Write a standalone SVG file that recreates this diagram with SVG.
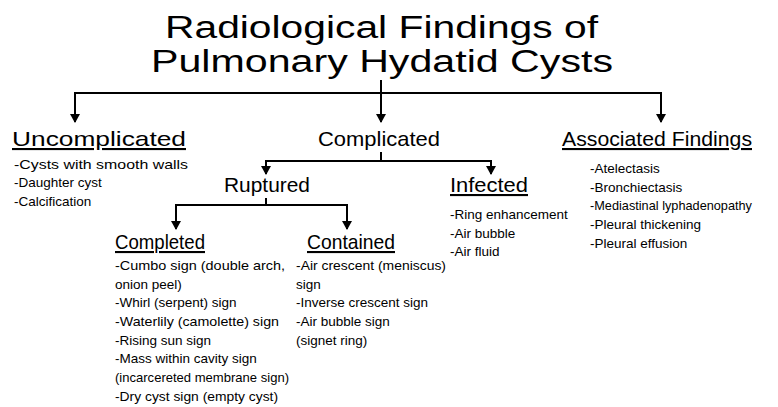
<svg xmlns="http://www.w3.org/2000/svg" width="778" height="407" viewBox="0 0 778 407">
<style>
text{font-family:"Liberation Sans",Arial,sans-serif;fill:#000}
.t{font-size:31px}
.h{font-size:21px}
.s{font-size:13.5px}
.u{text-decoration:underline}
line{stroke:#000;stroke-width:2}
</style>
<defs><marker id="a" markerWidth="10" markerHeight="10" refX="8" refY="5" orient="auto" markerUnits="userSpaceOnUse"><path d="M0,0L9,5L0,10z" fill="#000"/></marker></defs>
<rect width="778" height="407" fill="#fff"/>
<g id="title"><text class="t" x="165" y="38" textLength="433" lengthAdjust="spacingAndGlyphs">Radiological Findings of</text><text class="t" x="151" y="72" textLength="462" lengthAdjust="spacingAndGlyphs">Pulmonary Hydatid Cysts</text></g>
<g id="connectors">
<line x1="381" y1="80" x2="381" y2="93"/><line x1="75" y1="93" x2="661" y2="93"/>
<line x1="75" y1="92" x2="75" y2="122" marker-end="url(#a)"/>
<line x1="381" y1="93" x2="381" y2="122" marker-end="url(#a)"/>
<line x1="661" y1="92" x2="661" y2="122" marker-end="url(#a)"/>
<line x1="381" y1="152" x2="381" y2="161"/><line x1="266" y1="161" x2="491" y2="161"/>
<line x1="266" y1="160" x2="266" y2="174" marker-end="url(#a)"/>
<line x1="491" y1="160" x2="491" y2="174" marker-end="url(#a)"/>
<line x1="266" y1="198" x2="266" y2="205"/><line x1="176" y1="205" x2="347" y2="205"/>
<line x1="176" y1="204" x2="176" y2="229" marker-end="url(#a)"/>
<line x1="347" y1="204" x2="347" y2="229" marker-end="url(#a)"/>
</g>
<g id="uncomplicated"><text class="h u" x="12" y="146" textLength="174" lengthAdjust="spacingAndGlyphs">Uncomplicated</text>
<text class="s" x="14" y="169" textLength="174" lengthAdjust="spacingAndGlyphs">-Cysts with smooth walls</text><text class="s" x="14" y="187">-Daughter cyst</text><text class="s" x="14" y="206">-Calcification</text></g>
<g id="complicated"><text class="h" x="318" y="146" textLength="122" lengthAdjust="spacingAndGlyphs">Complicated</text></g>
<g id="associated"><text class="h u" x="562" y="146" textLength="190" lengthAdjust="spacingAndGlyphs">Associated Findings</text>
<text class="s" x="590" y="173">-Atelectasis</text><text class="s" x="590" y="192">-Bronchiectasis</text><text class="s" x="590" y="210" textLength="162" lengthAdjust="spacingAndGlyphs">-Mediastinal lyphadenopathy</text><text class="s" x="590" y="229">-Pleural thickening</text><text class="s" x="590" y="248">-Pleural effusion</text></g>
<g id="ruptured"><text class="h" x="224" y="192" textLength="86" lengthAdjust="spacingAndGlyphs">Ruptured</text></g>
<g id="infected"><text class="h u" x="450" y="192" textLength="78" lengthAdjust="spacingAndGlyphs">Infected</text>
<text class="s" x="450" y="219">-Ring enhancement</text><text class="s" x="450" y="238">-Air bubble</text><text class="s" x="450" y="256">-Air fluid</text></g>
<g id="completed"><text class="h u" x="115" y="249" textLength="90" lengthAdjust="spacingAndGlyphs">Completed</text>
<text class="s" x="115" y="270" textLength="170" lengthAdjust="spacingAndGlyphs">-Cumbo sign (double arch,</text><text class="s" x="115" y="289">onion peel)</text><text class="s" x="115" y="307">-Whirl (serpent) sign</text><text class="s" x="115" y="326" textLength="164" lengthAdjust="spacingAndGlyphs">-Waterlily (camolette) sign</text><text class="s" x="115" y="345">-Rising sun sign</text><text class="s" x="115" y="363">-Mass within cavity sign</text><text class="s" x="115" y="382" textLength="174" lengthAdjust="spacingAndGlyphs">(incarcereted membrane sign)</text><text class="s" x="115" y="401" textLength="163" lengthAdjust="spacingAndGlyphs">-Dry cyst sign (empty cyst)</text></g>
<g id="contained"><text class="h u" x="307" y="249" textLength="88" lengthAdjust="spacingAndGlyphs">Contained</text>
<text class="s" x="296" y="270" textLength="150" lengthAdjust="spacingAndGlyphs">-Air crescent (meniscus)</text><text class="s" x="296" y="289">sign</text><text class="s" x="296" y="307">-Inverse crescent sign</text><text class="s" x="296" y="326">-Air bubble sign</text><text class="s" x="296" y="345">(signet ring)</text></g>
</svg>
